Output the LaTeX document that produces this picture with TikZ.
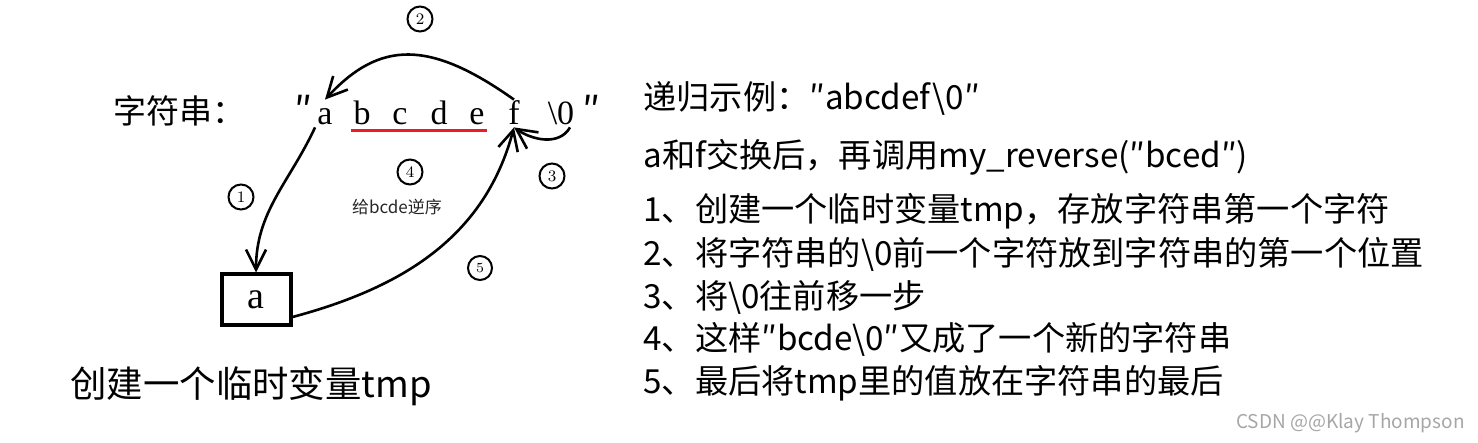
\documentclass[tikz,border=0pt]{standalone}
\usepackage{fontspec}
\newfontfamily\cjk{Noto Sans CJK SC}
\newfontfamily\latinserif{Liberation Serif}
\usetikzlibrary{arrows.meta}
\definecolor{paintred}{RGB}{237,28,36}

\begin{document}
\begin{tikzpicture}[x=0.5pt, y=-0.5pt,
  >={Straight Barb[length=10pt,width=10pt]},
  flow/.style={->, line width=1.3pt},
  letter/.style={anchor=base, inner sep=1pt, text height=11.5pt, text depth=0pt,
    font=\latinserif\fontsize{17pt}{17pt}\selectfont},
  circnum/.style={draw, circle, line width=1pt, minimum size=12.5pt, inner sep=0pt,
    font=\fontsize{8pt}{8pt}\selectfont},
  notes/.style={anchor=west, inner sep=0pt, font=\cjk\fontsize{16.6pt}{16.6pt}\selectfont}]
\useasboundingbox (0,0) rectangle (1478,443);

% the string
\node[anchor=base west, inner sep=0pt, font=\cjk\fontsize{16.5pt}{16.5pt}\selectfont] (strLabel) at (113,124) {字符串：};
\node[letter, font=\cjk\fontsize{19pt}{19pt}\selectfont] (quoteL) at (304,125) {″};
\node[letter] (strA) at (325,125) {a};
\node[letter] (strB) at (362,125) {b};
\node[letter] (strC) at (400,125) {c};
\node[letter] (strD) at (439,125) {d};
\node[letter] (strE) at (477,125) {e};
\node[letter] (strF) at (514,125) {f};
\node[letter] (strEnd) at (561,125) {\textbackslash 0};
\node[letter, font=\cjk\fontsize{19pt}{19pt}\selectfont] (quoteR) at (591,125) {″};
\draw[color=paintred, line width=1.5pt] ([yshift=-1.5pt]strB.south west) -- ([yshift=-1.5pt]strE.south east);

% tmp
\node[draw, line width=2pt, minimum width=34.5pt, minimum height=25.5pt,
  font=\latinserif\fontsize{19pt}{19pt}\selectfont] (tmpBox) at (256,300) {a};
\node[anchor=west, inner sep=0pt, font=\cjk\fontsize{18.2pt}{18.2pt}\selectfont] (tmpLabel) at (70,386) {创建一个临时变量tmp};

% steps
\node[circnum] (num1) at (241,197) {1};
\node[circnum] (num2) at (420,19) {2};
\node[circnum] (num3) at (552,176) {3};
\node[circnum] (num4) at (410,172) {4};
\node[circnum, minimum size=12pt, font=\fontsize{7pt}{7pt}\selectfont] (num5) at (480,268) {5};
\node[inner sep=0pt, text=black!85, font=\cjk\fontsize{8.5pt}{8.5pt}\selectfont] (revText) at (397,207) {给bcde逆序};

\draw[flow] (strA.south west) to[out=-115, in=90] (tmpBox.north);
\draw[flow] (strF.north) .. controls (430,40) and (380,40) .. (strA.north);
\draw[flow] ([xshift=4.5pt]strEnd.south) to[out=-120, in=-35] (strF.south);
\draw[flow] (tmpBox.-25) to[out=15, in=-105] (strF.south);
% \draw[flow] (tmpBox.east) to[out=0, in=-90] (strF.south);

% notes on the right
\foreach \y/\txt [count=\i] in {
    98/{递归示例：″abcdef\textbackslash 0″},
    157/{a和f交换后，再调用my\_reverse(″bced″)},
    211/{1、创建一个临时变量tmp，存放字符串第一个字符},
    254/{2、将字符串的\textbackslash 0前一个字符放到字符串的第一个位置},
    297/{3、将\textbackslash 0往前移一步},
    339/{4、这样″bcde\textbackslash 0″又成了一个新的字符串},
    383/{5、最后将tmp里的值放在字符串的最后}}
  \node[notes] (note\i) at (643,\y) {\txt};

\node[anchor=east, inner sep=0pt, text=black!35, font=\cjk\fontsize{9.5pt}{9.5pt}\selectfont] (mark) at (1465,423) {CSDN @@Klay Thompson};
\end{tikzpicture}
\end{document}
